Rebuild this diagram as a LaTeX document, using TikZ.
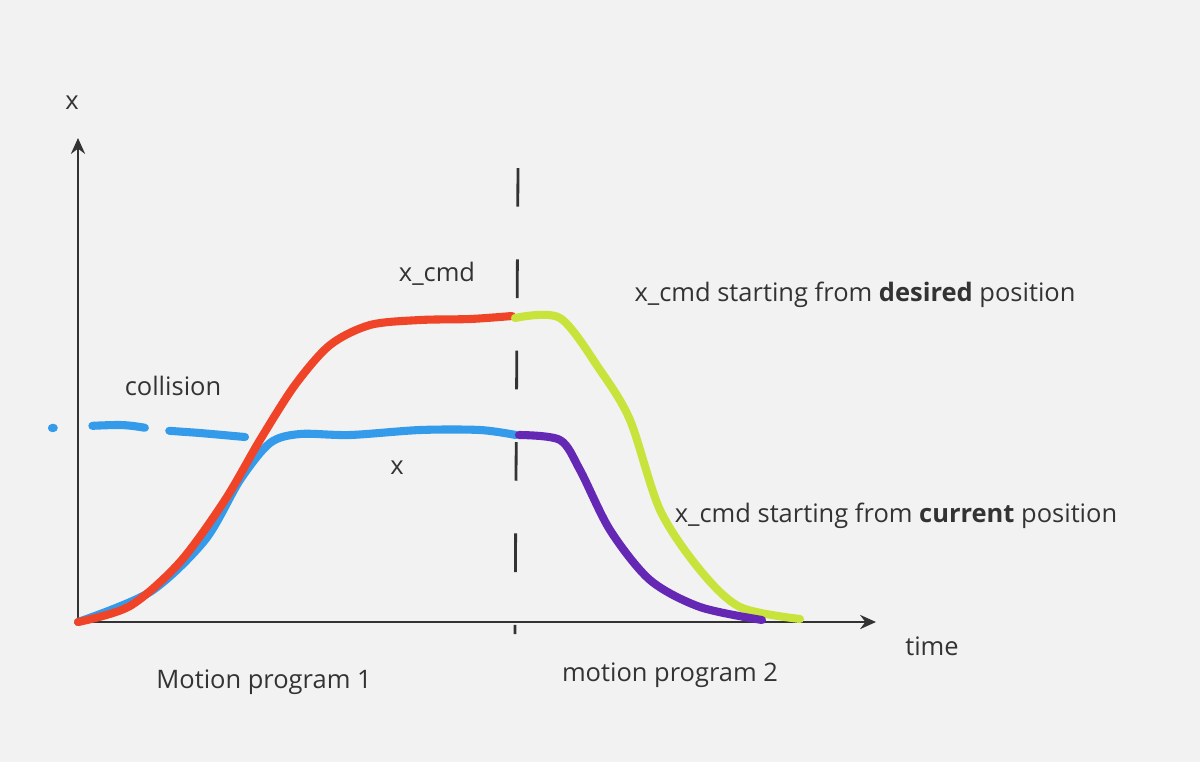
\documentclass[tikz,border=0pt]{standalone}
\usepackage{fontspec}
\setmainfont{Open Sans}
\usetikzlibrary{arrows.meta,positioning}
\definecolor{bg}{RGB}{242,242,242}
\definecolor{axisgray}{RGB}{51,51,51}
\definecolor{cmdred}{RGB}{240,68,40}
\definecolor{posblue}{RGB}{52,155,235}
\definecolor{lime}{RGB}{200,228,60}
\definecolor{violet}{RGB}{100,40,180}

\begin{document}
\begin{tikzpicture}[
    x=0.02cm, y=-0.02cm,
    label-text/.style={font=\fontsize{14.5}{17}\selectfont, text=axisgray, inner sep=0pt},
    axis-line/.style={-{Stealth[length=9pt,width=8pt]}, line width=1.6pt, axisgray},
    stroke/.style={line width=4.6pt, line cap=round, line join=round}
]
\fill[bg] (0,0) rectangle (1200,762);
\useasboundingbox (0,0) rectangle (1200,762);

% Axes
\coordinate (origin) at (78,622);
\coordinate (ytop) at (78,138);
\coordinate (xend) at (876,622);
\draw[axis-line] (origin) -- (ytop);
\draw[axis-line] (origin) -- (xend);
\node[label-text] (ylabel) at (72,103) {x};
\node[label-text] (tlabel) at (932,646) {time};

% Split between programs
\coordinate (splittop) at (518,168);
\coordinate (splitbot) at (515,634);
\draw[line width=1.6pt, axisgray, dash pattern=on 22pt off 30pt] (splittop) -- (splitbot);

% Measured position
\draw[stroke, posblue, dash pattern=on 1pt off 22pt on 30pt off 14pt on 60pt off 10pt on 50pt off 12pt] plot[smooth] coordinates {(52,428) (120,425) (160,430) (200,433) (245,437)};
\draw[stroke, posblue] plot[smooth] coordinates {(78,622) (150,592) (205,540) (240,480) (270,443) (300,434) (350,435) (420,430) (480,430) (516,435)};

% Commanded position
\draw[stroke, cmdred] plot[smooth] coordinates {(78,622) (130,606) (180,562) (225,500) (260,440) (295,385) (330,345) (370,325) (420,320) (470,319) (512,316)};

% Program 2 commands
\draw[stroke, lime] plot[smooth] coordinates {(515,318) (560,318) (600,370) (630,420) (660,510) (700,570) (740,607) (800,619)};
\draw[stroke, violet] plot[smooth] coordinates {(519,435) (560,440) (580,470) (610,530) (650,580) (700,607) (762,620)};

% Labels
\node[label-text] (cmdlabel) at (437,274) {x\_cmd};
\node[label-text] (collision) at (173,386) {collision};
\node[label-text] (xlabel) at (397,468) {x};
\node[label-text] (desired) at (855,295) {x\_cmd starting from \textbf{desired} position};
\node[label-text] (current) at (896,516) {x\_cmd starting from \textbf{current} position};
\node[label-text] (prog1) at (264,682) {Motion program 1};
\node[label-text] (prog2) at (670,675) {motion program 2};
\end{tikzpicture}
\end{document}
